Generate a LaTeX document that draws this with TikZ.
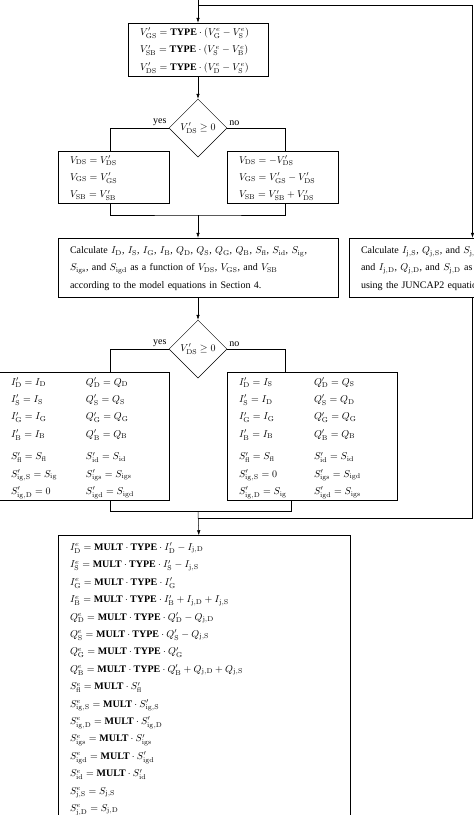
\documentclass[tikz,border=0pt]{standalone}
\usepackage[no-math]{fontspec}
\setmainfont{Liberation Serif}
\usetikzlibrary{shapes.geometric,arrows.meta}
\renewcommand{\arraystretch}{1.45}
\newcommand{\TYPE}{\textbf{TYPE}}
\newcommand{\MULT}{\textbf{MULT}}

\begin{document}
\begin{tikzpicture}[
		x=1pt, y=-1pt,
		box/.style={draw, line width=0.5pt, inner xsep=12pt, inner ysep=0pt, align=left},
		test/.style={diamond, draw, line width=0.5pt, minimum width=58pt, minimum height=58pt, inner sep=0pt},
		flow/.style={line width=0.5pt},
		arr/.style={flow, -{Latex[length=5pt,width=3.5pt]}},
		tag/.style={inner sep=2pt},
	]
	\path[use as bounding box] (0,0) rectangle (474,815);
	\clip (0,0) rectangle (474,815);
	% branch points
	\coordinate (in) at (198,0);
	\coordinate (rail) at (472.5,5.7);
	\coordinate (ycol) at (110.7,0);
	\coordinate (ncol1) at (285.7,0);
	\coordinate (ncol2) at (291.7,0);
	\coordinate (merge1) at (198,215);
	\coordinate (merge2) at (198,511.7);
	\coordinate (join) at (198,518.3);
	% boxes
	\node[box, text width=116pt, minimum height=53pt] (prime) at (198,49.5) {\begin{tabular}{@{}l@{}}
		$V'_{\rm GS} = \TYPE\cdot(V^e_{\rm G}-V^e_{\rm S})$\\
		$V'_{\rm SB} = \TYPE\cdot(V^e_{\rm S}-V^e_{\rm B})$\\
		$V'_{\rm DS} = \TYPE\cdot(V^e_{\rm D}-V^e_{\rm S})$
	\end{tabular}};
	\node[test] (d1) at (198,128) {$V'_{\rm DS}\geq 0$};
	\node[tag, above left] (yes1) at (d1.west) {yes};
	\node[tag, above right] (no1) at (d1.east) {no};
	\node[box, text width=87pt, minimum height=52pt] (v1) at (113.5,177) {\begin{tabular}{@{}l@{}}
		$V_{\rm DS} = V'_{\rm DS}$\\
		$V_{\rm GS} = V'_{\rm GS}$\\
		$V_{\rm SB} = V'_{\rm SB}$
	\end{tabular}};
	\node[box, text width=87pt, minimum height=52pt] (v2) at (282.5,177) {\begin{tabular}{@{}l@{}}
		$V_{\rm DS} = -V'_{\rm DS}$\\
		$V_{\rm GS} = V'_{\rm GS}-V'_{\rm DS}$\\
		$V_{\rm SB} = V'_{\rm SB}+V'_{\rm DS}$
	\end{tabular}};
	\node[box, text width=256pt, minimum height=59pt] (calc) at (198,267.5) {\begin{tabular}{@{}l@{}}
		Calculate $I_{\rm D}$, $I_{\rm S}$, $I_{\rm G}$, $I_{\rm B}$, $Q_{\rm D}$, $Q_{\rm S}$, $Q_{\rm G}$, $Q_{\rm B}$, $S_{\rm fl}$, $S_{\rm id}$, $S_{\rm ig}$,\\
		$S_{\rm igs}$, and $S_{\rm igd}$ as a function of $V_{\rm DS}$, $V_{\rm GS}$, and $V_{\rm SB}$\\
		according to the model equations in Section 4.
	\end{tabular}};
	\node[box, text width=146pt, minimum height=59pt] (jbox) at (434,267.5) {\begin{tabular}{@{}l@{}}
		Calculate $I_{\rm j,S}$, $Q_{\rm j,S}$, and $S_{\rm j,S}$,\\
		and $I_{\rm j,D}$, $Q_{\rm j,D}$, and $S_{\rm j,D}$ as\\
		using the JUNCAP2 equations
	\end{tabular}};
	\node[test] (d2) at (198,349) {$V'_{\rm DS}\geq 0$};
	\node[tag, above left] (yes2) at (d2.west) {yes};
	\node[tag, above right] (no2) at (d2.east) {no};
	\node[box, text width=146pt, minimum height=128.7pt] (sw1) at (84,436.35) {\begin{tabular}{@{}p{75pt}@{}l@{}}
		$I'_{\rm D} = I_{\rm D}$ & $Q'_{\rm D} = Q_{\rm D}$\\
		$I'_{\rm S} = I_{\rm S}$ & $Q'_{\rm S} = Q_{\rm S}$\\
		$I'_{\rm G} = I_{\rm G}$ & $Q'_{\rm G} = Q_{\rm G}$\\
		$I'_{\rm B} = I_{\rm B}$ & $Q'_{\rm B} = Q_{\rm B}$\\[5pt]
		$S'_{\rm fl} = S_{\rm fl}$ & $S'_{\rm id} = S_{\rm id}$\\
		$S'_{\rm ig,S} = S_{\rm ig}$ & $S'_{\rm igs} = S_{\rm igs}$\\
		$S'_{\rm ig,D} = 0$ & $S'_{\rm igd} = S_{\rm igd}$
	\end{tabular}};
	\node[box, text width=146pt, minimum height=128.7pt] (sw2) at (312,436.35) {\begin{tabular}{@{}p{75pt}@{}l@{}}
		$I'_{\rm D} = I_{\rm S}$ & $Q'_{\rm D} = Q_{\rm S}$\\
		$I'_{\rm S} = I_{\rm D}$ & $Q'_{\rm S} = Q_{\rm D}$\\
		$I'_{\rm G} = I_{\rm G}$ & $Q'_{\rm G} = Q_{\rm G}$\\
		$I'_{\rm B} = I_{\rm B}$ & $Q'_{\rm B} = Q_{\rm B}$\\[5pt]
		$S'_{\rm fl} = S_{\rm fl}$ & $S'_{\rm id} = S_{\rm id}$\\
		$S'_{\rm ig,S} = 0$ & $S'_{\rm igs} = S_{\rm igd}$\\
		$S'_{\rm ig,D} = S_{\rm ig}$ & $S'_{\rm igd} = S_{\rm igs}$
	\end{tabular}};
	\node[box, text width=268pt, minimum height=284pt] (ext) at (204,677.5) {\begin{tabular}{@{}l@{}}
		$I^e_{\rm D} = \MULT\cdot\TYPE\cdot I'_{\rm D}-I_{\rm j,D}$\\
		$I^e_{\rm S} = \MULT\cdot\TYPE\cdot I'_{\rm S}-I_{\rm j,S}$\\
		$I^e_{\rm G} = \MULT\cdot\TYPE\cdot I'_{\rm G}$\\
		$I^e_{\rm B} = \MULT\cdot\TYPE\cdot I'_{\rm B}+I_{\rm j,D}+I_{\rm j,S}$\\
		$Q^e_{\rm D} = \MULT\cdot\TYPE\cdot Q'_{\rm D}-Q_{\rm j,D}$\\
		$Q^e_{\rm S} = \MULT\cdot\TYPE\cdot Q'_{\rm S}-Q_{\rm j,S}$\\
		$Q^e_{\rm G} = \MULT\cdot\TYPE\cdot Q'_{\rm G}$\\
		$Q^e_{\rm B} = \MULT\cdot\TYPE\cdot Q'_{\rm B}+Q_{\rm j,D}+Q_{\rm j,S}$\\
		$S^e_{\rm fl} = \MULT\cdot S'_{\rm fl}$\\
		$S^e_{\rm ig,S} = \MULT\cdot S'_{\rm ig,S}$\\
		$S^e_{\rm ig,D} = \MULT\cdot S'_{\rm ig,D}$\\
		$S^e_{\rm igs} = \MULT\cdot S'_{\rm igs}$\\
		$S^e_{\rm igd} = \MULT\cdot S'_{\rm igd}$\\
		$S^e_{\rm id} = \MULT\cdot S'_{\rm id}$\\
		$S^e_{\rm j,S} = S_{\rm j,S}$\\
		$S^e_{\rm j,D} = S_{\rm j,D}$
	\end{tabular}};
	% connectors
	\draw[arr] (in) -- (prime);
	\draw[arr] (in |- rail) -- (rail) -- (rail |- jbox.north);
	\draw[flow] (rail |- jbox.south) |- (join);
	\draw[arr] (prime) -- (d1);
	\draw[flow] (d1.west) -| (ycol |- v1.north);
	\draw[flow] (d1.east) -| (ncol1 |- v2.north);
	\draw[flow] (ycol |- v1.south) |- (merge1) -| (ncol1 |- v2.south);
	\draw[arr] (merge1) -- (calc);
	\draw[arr] (calc) -- (d2);
	\draw[flow] (d2.west) -| (ycol |- sw1.north);
	\draw[flow] (d2.east) -| (ncol1 |- sw2.north);
	\draw[flow] (ycol |- sw1.south) |- (merge2) -| (ncol2 |- sw2.south);
	\draw[arr] (merge2) -- (ext);
\end{tikzpicture}
\end{document}
